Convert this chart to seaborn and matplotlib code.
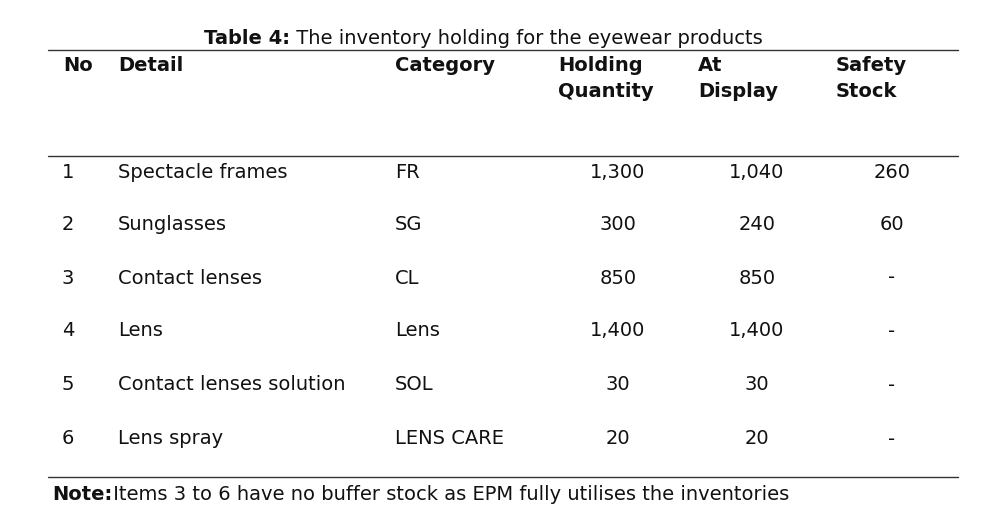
import matplotlib
matplotlib.use("Agg")
import matplotlib.pyplot as plt
import seaborn as sns

sns.set_theme(style="white")
plt.rcParams['font.family'] = ['DejaVu Sans']

headers = ["No", "Detail", "Category", "Holding\nQuantity", "At\nDisplay", "Safety\nStock"]
nos = ["1", "2", "3", "4", "5", "6"]
details = ["Spectacle frames", "Sunglasses", "Contact lenses", "Lens",
           "Contact lenses solution", "Lens spray"]
categories = ["FR", "SG", "CL", "Lens", "SOL", "LENS CARE"]
holding = ["1,300", "300", "850", "1,400", "30", "20"]
display = ["1,040", "240", "850", "1,400", "30", "20"]
safety = ["260", "60", "-", "-", "-", "-"]
title_bold, title_rest = "Table 4:", " The inventory holding for the eyewear products"
note_bold, note_rest = "Note:", " Items 3 to 6 have no buffer stock as EPM fully utilises the inventories"

fig = plt.figure(figsize=(10.03, 5.2), dpi=100)
ax = fig.add_axes([0, 0, 1, 1])
ax.set_xlim(0, 1003); ax.set_ylim(520, 0); ax.axis("off")
fs = 14
c = "#111111"

ax.text(290, 38, title_bold, ha="right", va="center", fontsize=fs, fontweight="bold", color=c)
ax.text(290, 38, title_rest, ha="left", va="center", fontsize=fs, color=c)
for y in (50, 156, 477):
    ax.plot([48, 958], [y, y], color="#333333", lw=1)

hx = [63, 118, 395, 558, 698, 836]
for x, h in zip(hx, headers):
    ax.text(x, 56, h, ha="left", va="top", fontsize=fs, fontweight="bold", color=c, linespacing=1.45)

ys = [172, 225, 278, 331, 385, 439]
for i, y in enumerate(ys):
    ax.text(68, y, nos[i], ha="center", va="center", fontsize=fs, color=c)
    ax.text(118, y, details[i], ha="left", va="center", fontsize=fs, color=c)
    ax.text(395, y, categories[i], ha="left", va="center", fontsize=fs, color=c)
    ax.text(618, y, holding[i], ha="center", va="center", fontsize=fs, color=c)
    ax.text(757, y, display[i], ha="center", va="center", fontsize=fs, color=c)
    ax.text(892, y, safety[i], ha="center", va="center", fontsize=fs, color=c)

ax.text(52, 494, note_bold, ha="left", va="center", fontsize=fs, fontweight="bold", color=c)
ax.text(107, 494, note_rest, ha="left", va="center", fontsize=fs, color=c)

fig.savefig("out.png", dpi=100)
